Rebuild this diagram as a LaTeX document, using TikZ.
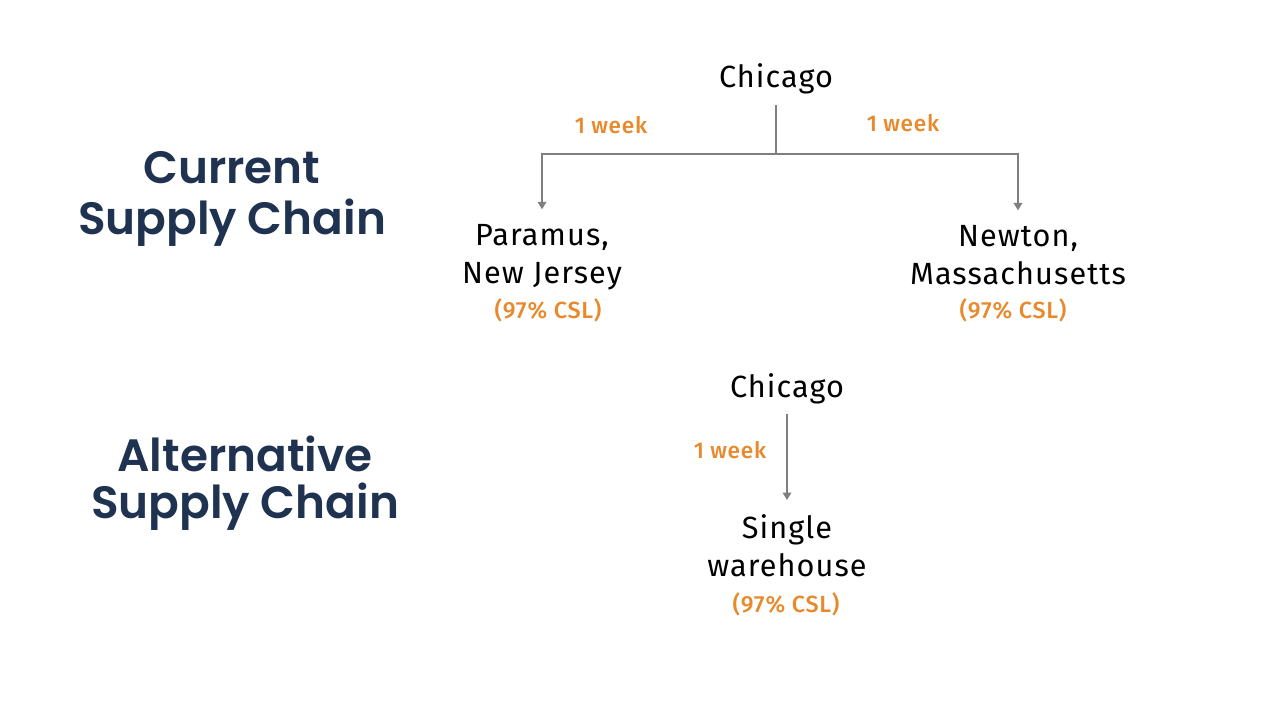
\documentclass[tikz,border=0pt]{standalone}
\usepackage{fontspec}
\setmainfont{Fira Sans}[LetterSpace=3.5]
\newfontfamily\accentfont{Fira Sans Medium}[LetterSpace=3]
\newfontfamily\titlefont{Poppins}[UprightFont=* SemiBold,BoldFont=* Bold]
\usetikzlibrary{arrows.meta}
\definecolor{navy}{HTML}{1F3350}
\definecolor{accent}{HTML}{E8892B}
\definecolor{conn}{HTML}{7F7F7F}
\tikzset{
  title/.style={font=\titlefont\fontsize{34}{38}\selectfont, text=navy, align=center, inner sep=0pt},
  place/.style={font=\fontsize{23}{28.5}\selectfont, text=black, align=center, inner sep=0pt},
  csl/.style={font=\accentfont\fontsize{17.5}{20}\selectfont, text=accent, inner sep=0pt},
  lead/.style={font=\accentfont\fontsize{17}{20}\selectfont, text=accent, inner sep=0pt},
  link/.style={draw=conn, line width=0.9pt},
  linkarrow/.style={link, -{Triangle[length=5.5pt,width=6.5pt]}}
}
\begin{document}
\begin{tikzpicture}[x=0.75pt,y=-0.75pt]
\useasboundingbox[fill=white] (0,0) rectangle (1280,720);
% titles
\node[title] (cur) at (232,199) {Current\\Supply Chain};
\node[title] (alt) at (245,483) {Alternative\\[-3pt]Supply Chain};
% current supply chain
\node[place] (chi1) at (776,79) {Chicago};
\node[place] (par) at (542,257) {Paramus,\\New Jersey};
\node[place] (new) at (1018,255) {Newton,\\Massachusetts};
\node[csl] (parcsl) at (548,310) {(97\% CSL)};
\node[csl] (newcsl) at (1013,310) {(97\% CSL)};
\node[lead] (w1) at (611,125) {1 week};
\node[lead] (w2) at (903,123) {1 week};
\coordinate (j) at (776,154);
\draw[link] ([yshift=-8pt]chi1.south) -- (j);
\draw[linkarrow] (j) -| ([yshift=11pt]par.north);
\draw[linkarrow] (j) -| ([yshift=11pt]new.north);
% alternative supply chain
\node[place] (chi2) at (787,389) {Chicago};
\node[place] (sw) at (787,546) {Single\\warehouse};
\node[csl] (swcsl) at (786,604) {(97\% CSL)};
\node[lead] (w3) at (730,450) {1 week};
\draw[linkarrow] ([yshift=-7pt]chi2.south) -- ([yshift=11pt]sw.north);
\end{tikzpicture}
\end{document}
